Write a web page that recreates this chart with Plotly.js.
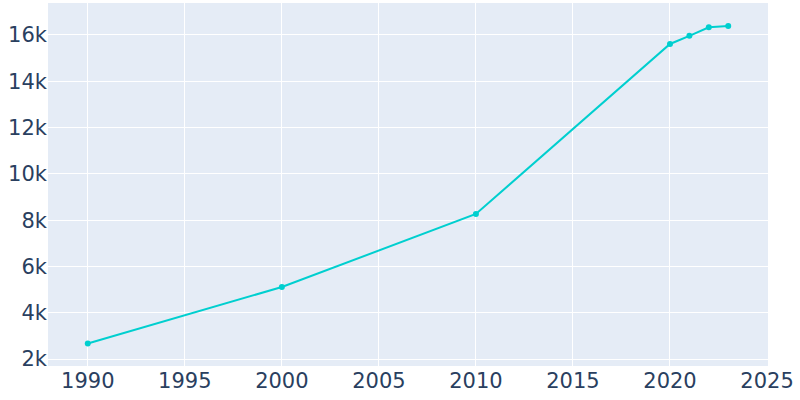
<!DOCTYPE html>
<html>
<head>
<script src="https://cdn.plot.ly/plotly-3.0.1.min.js"></script>
<style>body{margin:0}#plot{width:800px;height:400px}</style>
</head>
<body>
<div id="plot"></div>
<script>
const years = [1990, 2000, 2010, 2020, 2021, 2022, 2023]
const population = [2670, 5110, 8270, 15610, 15960, 16330, 16390]

Plotly.newPlot("plot", [{
    type: 'scatter',
    mode: 'lines+markers',
    x: years,
    y: population,
    line: {color: '#00cfcf', width: 2},
    marker: {color: '#00cfcf', size: 6},
}], {
    width: 800,
    height: 400,
    showlegend: false,
    paper_bgcolor: 'white',
    plot_bgcolor: '#E5ECF6',
    font: {family: 'DejaVu Sans, Open Sans, sans-serif', size: 21, color: '#2a3f5f'},
    margin: {t: 3, r: 32, b: 34, l: 48},
    xaxis: {
        range: [1987.95, 2025.05],
        dtick: 5,
        gridcolor: 'white',
        zeroline: false,
        ticks: '',
    },
    yaxis: {
        range: [1700, 17380],
        dtick: 2000,
        tickformat: '~s',
        gridcolor: 'white',
        zeroline: false,
        ticks: '',
    },
}, {displayModeBar: false})
</script>
</body>
</html>
